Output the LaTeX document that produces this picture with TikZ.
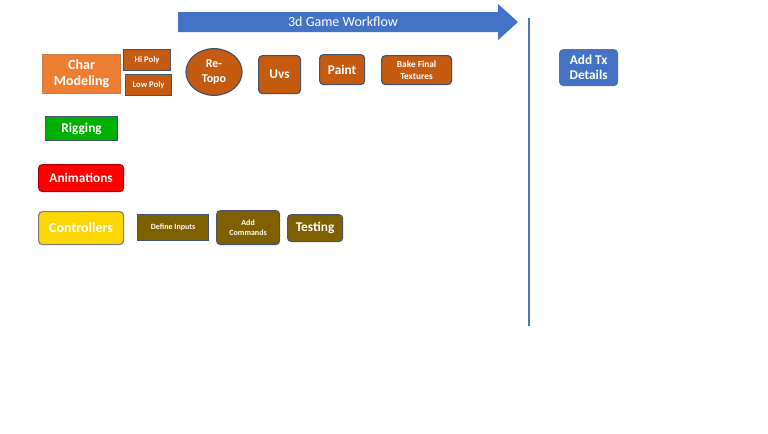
\documentclass[tikz,border=0pt]{standalone}
\usepackage{fontspec}
\setmainfont{Carlito}
\usetikzlibrary{shapes.geometric}
\definecolor{orA}{HTML}{ED7D31}
\definecolor{orB}{HTML}{C55A11}
\definecolor{brn}{HTML}{7F6000}
\definecolor{blu}{HTML}{4472C4}
\definecolor{edg}{HTML}{44546A}
\tikzset{
 bx/.style={draw=edg,line width=0.9pt,text=white,font=\bfseries,align=center,inner sep=0pt},
 rbx/.style={bx,rounded corners=3pt},
}
\newcommand{\bxat}[6]{\node[#1,fill=#2,minimum width={(#4-#3)*0.75pt},minimum height={(#6-#5)*0.75pt},anchor=north west] at (#3,#5)}
\begin{document}
\begin{tikzpicture}[x=0.75pt,y=-0.75pt]
\useasboundingbox[fill=white] (0,0) rectangle (768,433);
\fill[blu] (178,12) -- (498,12) -- (498,4) -- (518,22) -- (498,40) -- (498,32) -- (178,32) -- cycle;
\node[text=white,font=\fontsize{10.5}{12}\selectfont] (title) at (343,22) {3d Game Workflow};
\coordinate (vt) at (529,18); \coordinate (vb) at (529,326);
\draw[blu!80!gray,line width=0.8pt] (vt) -- (vb);
\bxat{bx,draw=orA!70!gray,font=\fontsize{10.5}{12}\selectfont\bfseries}{orA}{42}{120}{54}{93} (cm) {Char\\Modeling};
\bxat{bx,font=\fontsize{6.5}{7}\selectfont\bfseries}{orB}{123}{170}{49}{70} (hp) {Hi Poly};
\bxat{bx,font=\fontsize{6.5}{7}\selectfont\bfseries}{orB}{125}{171}{74}{95} (lp) {Low Poly};
\node[ellipse,draw=edg,line width=0.9pt,fill=orB,text=white,minimum width=42pt,minimum height=35pt,inner sep=0pt,align=center,font=\fontsize{9}{11}\selectfont\bfseries] (rt) at (214,72) {Re-\\Topo};
\bxat{rbx,font=\fontsize{10}{11}\selectfont\bfseries}{orB}{258}{300}{55}{93} (uv) {Uvs};
\bxat{rbx,font=\fontsize{10}{11}\selectfont\bfseries}{orB}{319}{364}{54}{84} (pt) {Paint};
\bxat{rbx,font=\fontsize{7}{8.5}\selectfont\bfseries}{orB}{381}{451}{55}{84} (bk) {Bake Final\\Textures};
\bxat{rbx,draw=blu!80!gray,font=\fontsize{10}{11}\selectfont\bfseries}{blu}{559}{617}{49}{85} (tx) {Add Tx\\Details};
\bxat{bx,font=\fontsize{10}{11}\selectfont\bfseries}{green!69!black}{45}{117}{116}{140} (rg) {Rigging};
\bxat{rbx,draw=red!70!black,font=\fontsize{10}{11}\selectfont\bfseries}{red}{38}{123}{164}{191} (an) {Animations};
\bxat{rbx,draw=gray,font=\fontsize{10.5}{11}\selectfont\bfseries}{yellow!75!orange}{38}{123}{211}{244} (ct) {Controllers};
\bxat{bx,font=\fontsize{6}{7}\selectfont\bfseries}{brn}{137}{208}{214}{240} (di) {Define Inputs};
\bxat{rbx,font=\fontsize{6}{7.5}\selectfont\bfseries}{brn}{216}{279}{210}{244} (ac) {Add\\Commands};
\bxat{rbx,font=\fontsize{10}{11}\selectfont\bfseries}{brn}{287}{342}{214}{241} (ts) {Testing};
\end{tikzpicture}
\end{document}
